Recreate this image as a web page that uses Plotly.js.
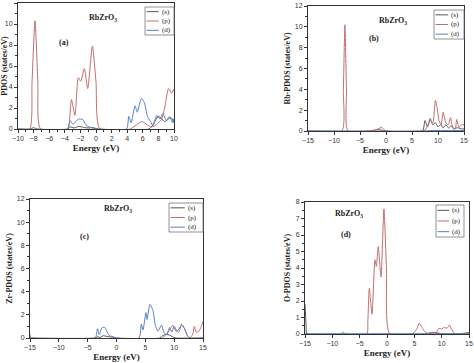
<!DOCTYPE html>
<html>
<head>
<meta charset="utf-8">
<script src="https://cdn.plot.ly/plotly-3.0.1.min.js"></script>
<style>html,body{margin:0;padding:0;background:#fff}#chart{width:474px;height:363px}</style>
</head>
<body>
<div id="chart"></div>
<script>
// ---------- DATA ----------
const orbitalNames = ["(s)", "(p)", "(d)"];
const compound = "RbZrO<sub>3</sub>";
const panelLabels = ["(a)", "(b)", "(c)", "(d)"];
const yTitles = ["PDOS (states/eV)", "Rb-PDOS (states/eV)", "Zr-PDOS (states/eV)", "O-PDOS (states/eV)"];
const xTitle = "Energy (eV)";

// Panel (a) total PDOS
const aSx = [-10,-8.5,-8,-7.5,-3.6,-3.3,-2.8,-2.2,-1.6,-1,-0.4,0.3,6.8,7.2,7.6,8.0,8.4,8.8,9.2,9.6,10];
const aSy = [0,0,0.12,0,0,0.2,0.1,0.25,0.15,0.1,0.12,0,0,0.3,0.8,1.2,1.0,0.7,0.9,1.1,0.6];
const aPx = [-10,-8.5,-8.2,-7.82,-7.45,-7.1,-3.6,-3.4,-3.15,-2.7,-2.27,-1.96,-1.5,-1.06,-0.47,0.0,0.5,4.4,5.0,5.4,5.85,6.4,7.0,7.5,8.0,8.4,8.8,9.3,9.7,10];
const aPy = [0,0,4.5,10.3,4.5,0,0,0.8,2.8,1.3,4.9,4.55,5.75,3.85,7.9,4.5,0,0,0.3,0.5,0.7,0.5,0.2,0.3,0.6,0.9,2.0,3.85,3.4,3.8];
const aDx = [-10,-3.7,-3.3,-2.95,-2.5,-2.2,-1.7,-1.3,-0.9,-0.4,0.3,3.9,4.2,4.5,5.0,5.3,5.8,6.2,6.6,7.0,7.3,7.8,8.2,8.6,9.0,9.4,9.8,10];
const aDy = [0,0,0.8,0.45,0.8,0.95,0.9,0.4,0.2,0.1,0,0,1.2,0.6,2.2,1.6,2.9,2.5,1.2,0.7,0.3,1.3,0.95,1.5,0.8,1.2,0.6,1.0];

// Panel (b) Rb
const bSx = [-15,-3,-2,-1.2,-0.5,0,7,7.5,8.0,8.5,9.0,9.5,10,10.5,11,11.5,12,12.5,13,13.5,14,14.5,15];
const bSy = [0,0,0.1,0.12,0.05,0,0,1.0,0.4,1.2,0.6,0.8,0.4,0.6,0.3,0.6,0.3,0.5,0.2,0.3,0.3,0.2,0.2];
const bPx = [-15,-8.5,-8.2,-7.9,-7.6,-7.3,-3,-2,-1.5,-0.8,-0.4,0,6.5,7.5,8.0,8.5,9.0,9.5,9.8,10.2,10.6,11.0,11.5,12.0,12.4,12.8,13.3,13.6,14,14.5,15];
const bPy = [0,0,4,10.2,4,0,0,0.12,0.2,0.35,0.15,0,0,0.1,0.5,1.0,0.8,2.95,2.3,1.0,0.6,1.8,0.8,0.6,1.3,0.4,0.2,1.1,0.4,0.6,0.6];
const bDx = [-15,7,9,12,15];
const bDy = [0,0,0.05,0.05,0.05];

// Panel (c) Zr
const cSx = [-15,-3.8,-3.3,-2.8,-2.3,-1.8,-1.2,-0.5,0,7.5,8,8.7,9.2,9.7,10.3,15];
const cSy = [0,0,0.1,0.05,0.2,0.15,0.1,0.05,0,0,0.2,0.3,0.25,0.1,0,0];
const cPx = [-15,-14.8,8.0,8.5,9.0,9.3,9.8,10.3,10.8,11.3,11.8,12.3,12.7,13.2,13.5,13.8,14.3,14.7,15];
const cPy = [0.3,0,0,0.3,0.5,0.8,1.1,0.6,0.5,1.2,0.8,0.2,0,0.3,1.0,0.5,0.6,1.0,1.4];
const cDx = [-15,-3.7,-3.3,-3.0,-2.5,-2.0,-1.7,-1.2,-0.5,0,3.9,4.3,4.6,5.1,5.3,5.8,6.3,6.8,7.2,7.8,8.3,8.7,9.2,9.6,10.0,10.5,11.3,11.8,12.3,12.8,15];
const cDy = [0,0,0.8,0.3,0.9,0.9,0.6,0.2,0.1,0,0,1.2,0.7,2.2,1.6,2.9,2.4,1.0,0.6,1.1,0.4,0.3,0.9,0.5,1.0,0.6,1.1,0.8,0.2,0,0];

// Panel (d) O
const dSx = [-15,-14.8,-14.6,7.5,8.5,9.5,10,15];
const dSy = [1.8,0.6,0,0,0.1,0.05,0,0];
const dPx = [-15,-8.4,-8,-7.6,-3.7,-3.5,-3.24,-2.75,-2.2,-1.95,-1.6,-1.1,-0.56,-0.1,0.5,4.5,5.0,5.5,5.9,6.4,6.9,7.4,8,9,9.5,10,10.5,11,11.4,11.8,12.3,13,14,15];
const dPy = [0,0,0.12,0,0,0.8,2.77,1.2,4.5,4.1,5.3,3.45,7.58,4.0,0,0,0.1,0.35,0.65,0.4,0.15,0.05,0.1,0.1,0.35,0.3,0.4,0.35,0.55,0.3,0.05,0,0.05,0.1];
const dDx = [-15,15];
const dDy = [0.02,0.02];

const xRanges = [[-10,10],[-15,15],[-15,15],[-15,15]];
const xDtick = [2,5,5,5];
const yRanges = [[0,12],[0,12],[0,12],[0,8]];
const yDtick = [2,2,2,1];

// ---------- STYLE ----------
const colors = ["#555555", "#c26e6e", "#5a7fc4"];
const W = 474, H = 363;
const fx = v => v / W, fy = v => 1 - v / H;
// panel boxes in pixels [left, right, top, bottom]
const boxes = [[18,174,3,129],[308,464,6,131],[30,203,199,338],[305,469,202,334]];
const legendBoxes = [[145,174,7,35],[434,464,10,39],[169,203,203,232],[436,464,205,237]];
const titlePos = [[103,18],[393,21],[118,209],[349,214]];
const labelPos = [[64,42],[374,39],[84,236],[346,234]];

const series = [
  [[aSx,aSy],[aPx,aPy],[aDx,aDy]],
  [[bSx,bSy],[bPx,bPy],[bDx,bDy]],
  [[cSx,cSy],[cPx,cPy],[cDx,cDy]],
  [[dSx,dSy],[dPx,dPy],[dDx,dDy]]
];

const traces = [];
const layout = {
  width: W, height: H,
  margin: {l:0,r:0,t:0,b:0},
  paper_bgcolor: "#fff", plot_bgcolor: "#fff",
  showlegend: false,
  shapes: [], annotations: []
};
const serif = "Liberation Serif, Times New Roman, serif";
const sans = "Liberation Sans, Arial, sans-serif";

series.forEach((panel, i) => {
  const n = i + 1;
  const xa = n === 1 ? "x" : "x" + n, ya = n === 1 ? "y" : "y" + n;
  panel.forEach((s, k) => {
    traces.push({
      x: s[0], y: s[1], type: "scatter", mode: "lines",
      name: orbitalNames[k], xaxis: xa, yaxis: ya,
      line: {color: colors[k], width: 1, shape: "spline", smoothing: 0.6}
    });
  });
  const b = boxes[i];
  const axBase = {
    showline: true, linecolor: "#333", linewidth: 1, mirror: true,
    ticks: "outside", ticklen: 3, tickwidth: 1, tickcolor: "#333",
    showgrid: false, zeroline: false,
    tickfont: {family: sans, size: 7, color: "#333"},
    minor: {ticks: "outside", ticklen: 2, tickcolor: "#333", nticks: 2}
  };
  layout["xaxis" + (n === 1 ? "" : n)] = Object.assign({}, axBase, {
    domain: [fx(b[0]), fx(b[1])], anchor: ya, range: xRanges[i], dtick: xDtick[i], tick0: 0,
    title: {text: xTitle, font: {family: serif, size: 9, color: "#222", weight: "bold"}, standoff: 3}
  });
  layout["yaxis" + (n === 1 ? "" : n)] = Object.assign({}, axBase, {
    domain: [fy(b[3]), fy(b[2])], anchor: xa, range: yRanges[i], dtick: yDtick[i], tick0: 0,
    title: {text: yTitles[i], font: {family: serif, size: 8, color: "#222", weight: "bold"}, standoff: 3}
  });
  // compound & panel label
  layout.annotations.push({xref:"paper",yref:"paper",x:fx(titlePos[i][0]),y:fy(titlePos[i][1]),
    xanchor:"center",yanchor:"middle",
    text:compound,showarrow:false,font:{family:serif,size:8,color:"#222",weight:"bold"}});
  layout.annotations.push({xref:"paper",yref:"paper",x:fx(labelPos[i][0]),y:fy(labelPos[i][1]),
    xanchor:"center",yanchor:"middle",
    text:panelLabels[i],showarrow:false,font:{family:serif,size:8,color:"#222",weight:"bold"}});
  // legend box
  const L = legendBoxes[i];
  layout.shapes.push({type:"rect",xref:"paper",yref:"paper",x0:fx(L[0]),x1:fx(L[1]),y0:fy(L[3]),y1:fy(L[2]),
    line:{color:"#777",width:0.8},fillcolor:"rgba(255,255,255,0)"});
  const rowH = (L[3]-L[2]) / 3;
  const lineLen = (L[1]-L[0]) * 0.42;
  orbitalNames.forEach((nm, k) => {
    const yy = L[2] + rowH*(k+0.5);
    layout.shapes.push({type:"line",xref:"paper",yref:"paper",x0:fx(L[0]+1.5),x1:fx(L[0]+1.5+lineLen),
      y0:fy(yy),y1:fy(yy),line:{color:colors[k],width:1}});
    layout.annotations.push({xref:"paper",yref:"paper",x:fx(L[0]+2.5+lineLen),y:fy(yy),
      xanchor:"left",yanchor:"middle",
      text:nm,showarrow:false,font:{family:serif,size:7,color:"#222"}});
  });
});

Plotly.newPlot("chart", traces, layout, {staticPlot: true});
</script>
</body>
</html>
